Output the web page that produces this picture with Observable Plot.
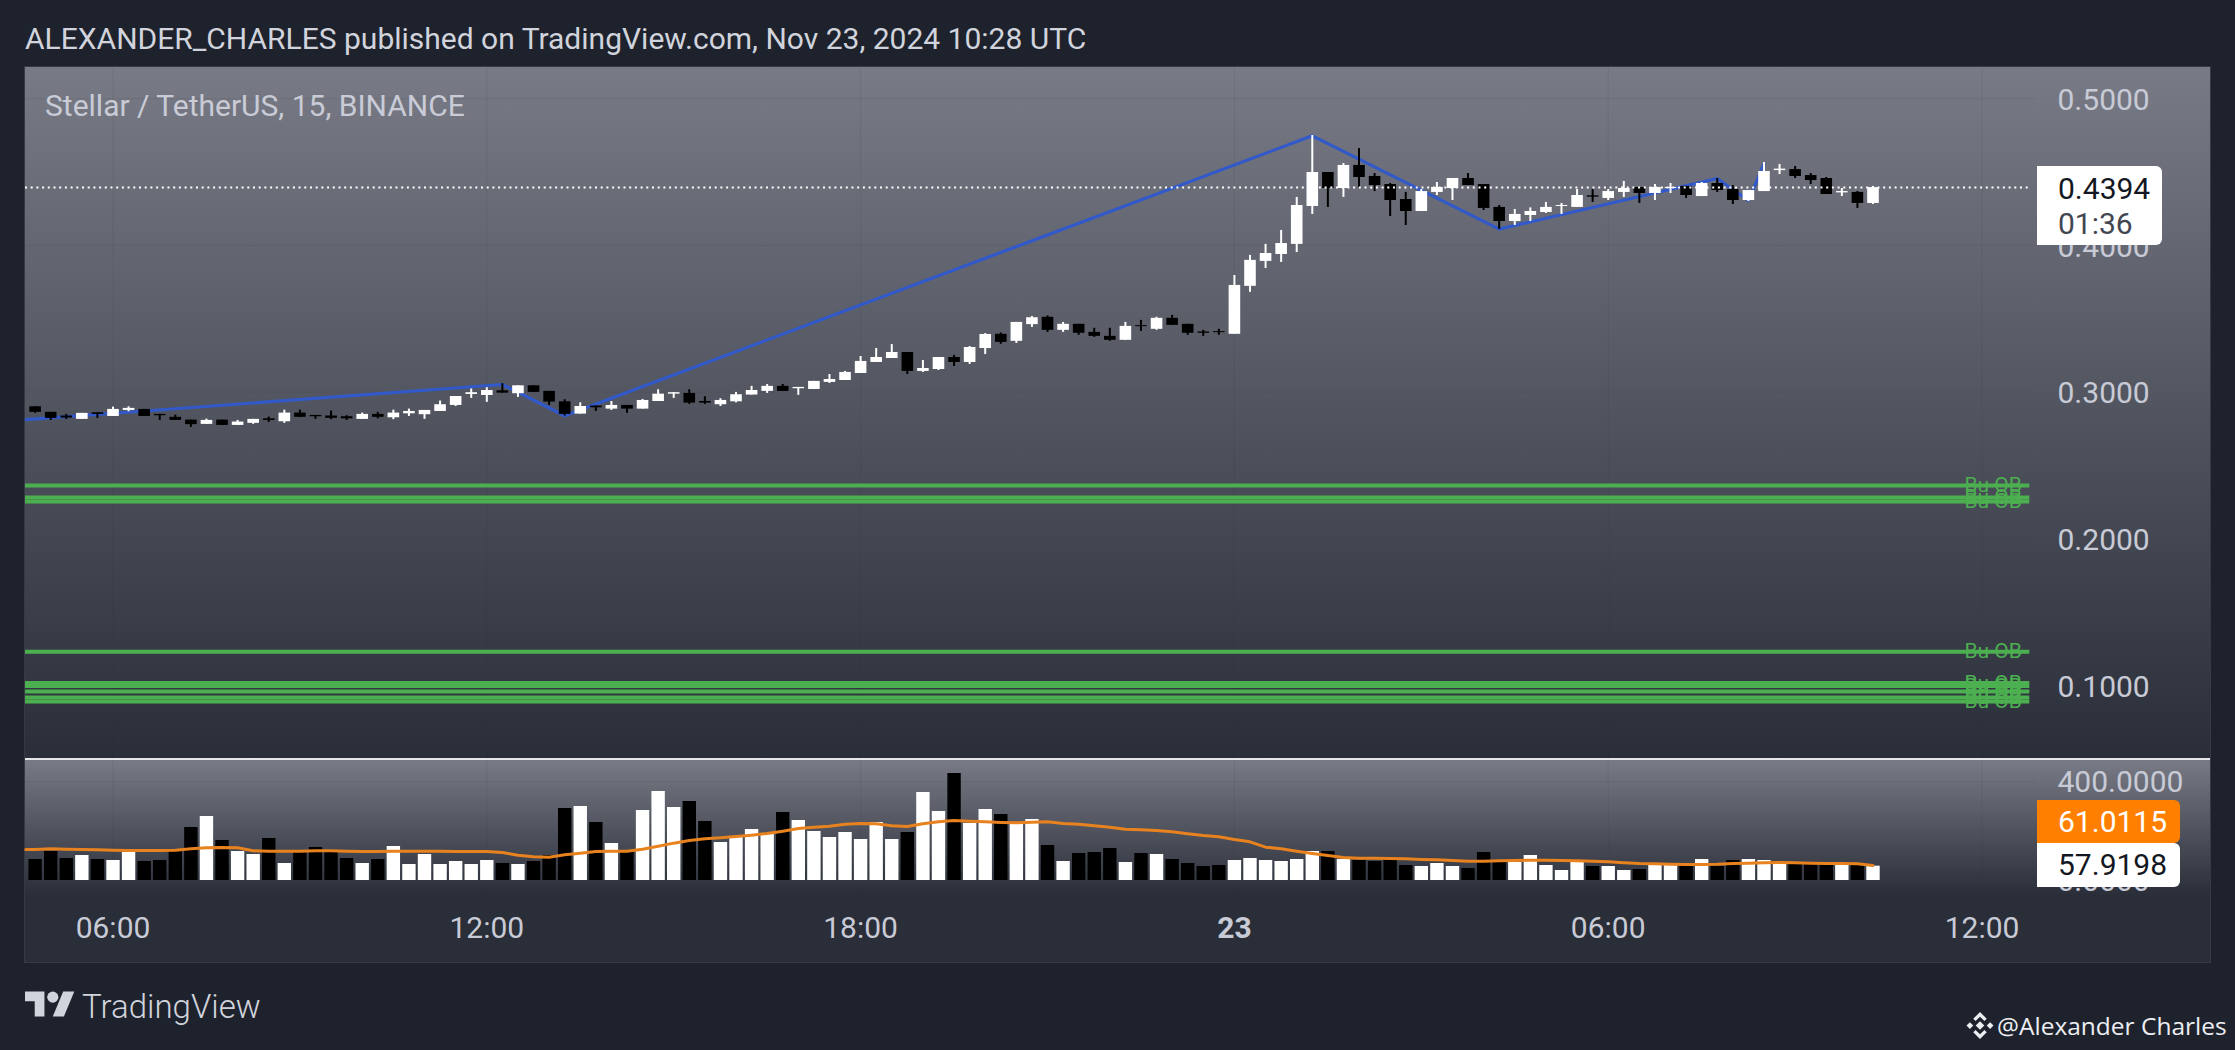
<!DOCTYPE html>
<html>
<head>
<meta charset="utf-8">
<script src="https://cdn.jsdelivr.net/npm/d3@7"></script>
<script src="https://cdn.jsdelivr.net/npm/@observablehq/plot@0.6"></script>
<style>
html,body{margin:0;padding:0;background:#1e222d;width:2235px;height:1050px;overflow:hidden;font-family:Roboto,sans-serif;}
.abs{position:absolute;white-space:nowrap;}
.abs svg{display:block;}
#panel{left:25px;top:67px;width:2185px;height:895px;background:#2a2e39;box-shadow:0 0 0 1px #363a45;}
#paneTop{left:25px;top:67px;width:2185px;height:692px;background:linear-gradient(180deg,#787b86 0%,#2a2e39 100%);}
#sep{left:25px;top:758px;width:2185px;height:2px;background:#e6e7ea;}
#paneVol{left:25px;top:760px;width:2185px;height:135px;background:linear-gradient(180deg,#787b86 0%,#2a2e39 100%);}
.tag{left:2037px;width:125px;background:#fff;border-radius:0 6px 6px 0;}
.tag span{position:absolute;left:21px;font-size:30px;line-height:34px;}
</style>
</head>
<body>
<div class="abs" id="panel"></div>
<div class="abs" id="paneTop"></div>
<div class="abs" id="paneVol"></div>
<div class="abs" id="sep"></div>
<div class="abs" id="chartTop" style="left:25px;top:67px"></div>
<div class="abs" id="chartVol" style="left:25px;top:760px"></div>

<div class="abs" style="left:25px;top:21px;font-size:30px;line-height:36px;color:#d1d4dc" id="headline">ALEXANDER_CHARLES published on TradingView.com, Nov 23, 2024 10:28 UTC</div>
<div class="abs" style="left:45px;top:88px;font-size:30px;line-height:36px;color:#c9cbd6" id="symbol">Stellar / TetherUS, 15, BINANCE</div>

<div class="abs tag" style="top:166px;height:79px">
  <span style="top:6px;color:#131722">0.4394</span>
  <span style="top:41px;color:#434651">01:36</span>
</div>
<div class="abs tag" style="top:800px;height:43px;width:143px;background:#ff7f00;border-radius:0 6px 6px 0">
  <span style="top:5px;color:#fff">61.0115</span>
</div>
<div class="abs tag" style="top:843px;height:44px;width:143px;border-radius:0 6px 6px 0">
  <span style="top:5px;color:#131722">57.9198</span>
</div>

<svg class="abs" style="left:25px;top:986px" width="50" height="39" viewBox="0 0 36 28" fill="#d1d4dc">
  <path d="M14 22H7V11H0V4h14v18zM28 22h-8l7.500-18h8L28 22z"></path><circle cx="20" cy="8" r="4"></circle>
</svg>
<div class="abs" style="left:82px;top:986px;font-size:33px;line-height:42px;font-weight:300;color:#d1d4dc">TradingView</div>

<svg class="abs" style="left:1966px;top:1012px" width="28" height="27" viewBox="0 0 28 28" fill="#eceef2">
  <path d="M14 0l7 7-2.400 2.400L14 4.800 9.400 9.400 7 7zM14 28l-7-7 2.400-2.400 4.600 4.600 4.600-4.600L21 21zM3.500 10.500L7 14l-3.500 3.500L0 14zM24.500 10.500L28 14l-3.500 3.500L21 14zM14 9.500L18.500 14 14 18.500 9.500 14z"></path>
</svg>
<div class="abs" style="left:1997px;top:1009px;font-size:24.5px;line-height:34px;font-family:'Open Sans',sans-serif;color:#eceef2" id="credit">@Alexander Charles</div>

<script>
// Candles, one entry per 15-minute bar, 04:45 UTC on 22 Nov to 10:15 UTC on 23 Nov 2024
const opens = [.2900,.2862,.2837,.2814,.2859,.2834,.2875,.2882,.2848,.2828,.2809,.2780,.2809,.2773,.2787,.2818,.2798,.2857,.2841,.2837,.2832,.2814,.2848,.2825,.2852,.2846,.2868,.2909,.2984,.2977,.3009,.2989,.3043,.3005,.2934,.2850,.2905,.2884,.2909,.2884,.2936,.2986,.2991,.2936,.2914,.2934,.2980,.3005,.3039,.3023,.3018,.3066,.3079,.3127,.3202,.3229,.3270,.3141,.3154,.3236,.3202,.3297,.3394,.3346,.3460,.3510,.3421,.3462,.3407,.3380,.3353,.3453,.3428,.3503,.3462,.3410,.3412,.3394,.3721,.3891,.3938,.4007,.4265,.4497,.4388,.4545,.4470,.4415,.4313,.4231,.4361,.4388,.4456,.4415,.4259,.4163,.4204,.4224,.4265,.4259,.4338,.4320,.4361,.4395,.4354,.4388,.4402,.4333,.4422,.4381,.4306,.4367,.4510,.4517,.4476,.4456,.4358,.4361,.4286];
const highs = [.2900,.2862,.2848,.2855,.2859,.2898,.2900,.2882,.2848,.2843,.2809,.2816,.2809,.2807,.2814,.2830,.2877,.2877,.2841,.2871,.2839,.2857,.2862,.2877,.2884,.2875,.2939,.2970,.3021,.3030,.3057,.3043,.3043,.3005,.2948,.2927,.2905,.2936,.2909,.2950,.3016,.2996,.3016,.2968,.2955,.2998,.3039,.3052,.3052,.3032,.3073,.3120,.3141,.3243,.3297,.3324,.3270,.3215,.3236,.3250,.3311,.3399,.3403,.3475,.3516,.3519,.3475,.3462,.3435,.3435,.3475,.3489,.3510,.3523,.3462,.3421,.3428,.3795,.3932,.4007,.4102,.4327,.4749,.4497,.4558,.4660,.4490,.4422,.4361,.4381,.4429,.4456,.4490,.4415,.4272,.4245,.4256,.4293,.4286,.4381,.4381,.4381,.4436,.4395,.4415,.4422,.4402,.4429,.4456,.4408,.4374,.4565,.4551,.4538,.4490,.4463,.4388,.4367,.4402];
const lows = [.2855,.2807,.2814,.2814,.2821,.2834,.2866,.2834,.2807,.2807,.2759,.2780,.2773,.2773,.2780,.2793,.2787,.2828,.2814,.2812,.2807,.2814,.2818,.2812,.2834,.2814,.2868,.2902,.2957,.2930,.2993,.2964,.2998,.2909,.2837,.2850,.2868,.2875,.2855,.2884,.2936,.2957,.2916,.2916,.2902,.2927,.2980,.2991,.3005,.2978,.3018,.3059,.3079,.3127,.3202,.3229,.3120,.3134,.3147,.3175,.3188,.3256,.3326,.3332,.3441,.3407,.3407,.3387,.3373,.3346,.3353,.3414,.3421,.3455,.3387,.3380,.3387,.3394,.3680,.3843,.3884,.3952,.4211,.4259,.4327,.4392,.4367,.4197,.4136,.4231,.4340,.4306,.4408,.4238,.4109,.4136,.4163,.4218,.4211,.4259,.4293,.4306,.4327,.4286,.4306,.4354,.4320,.4333,.4361,.4279,.4299,.4367,.4483,.4456,.4415,.4347,.4333,.4252,.4279];
const closes = [.2862,.2821,.2823,.2855,.2848,.2882,.2889,.2834,.2839,.2807,.2778,.2807,.2773,.2796,.2814,.2807,.2857,.2828,.2832,.2821,.2818,.2848,.2828,.2857,.2868,.2875,.2914,.2970,.2996,.3011,.2993,.3043,.2998,.2932,.2848,.2902,.2893,.2909,.2884,.2943,.2986,.2996,.2925,.2925,.2943,.2982,.3011,.3039,.3005,.3032,.3073,.3086,.3134,.3209,.3236,.3270,.3141,.3161,.3236,.3202,.3304,.3393,.3339,.3475,.3507,.3421,.3462,.3401,.3380,.3353,.3448,.3446,.3503,.3455,.3401,.3401,.3405,.3727,.3898,.3945,.4013,.4272,.4497,.4388,.4545,.4463,.4408,.4306,.4231,.4367,.4395,.4456,.4408,.4252,.4163,.4211,.4231,.4259,.4272,.4340,.4329,.4367,.4388,.4354,.4395,.4395,.4340,.4422,.4374,.4306,.4374,.4504,.4520,.4470,.4442,.4347,.4367,.4286,.4394];

// Volume bars and the moving average of volume
const volumes = [84.9,117.2,88.9,101,84.9,80.8,113.1,76.8,80.8,117.2,214.2,258.6,161.6,117.2,105.1,169.7,68.7,113.1,133.4,113.1,88.9,68.7,84.9,137.4,64.7,105.1,64.7,76.8,64.7,80.8,68.7,64.7,76.8,101,291,299,234.4,149.5,117.2,282.9,359.6,295,319.2,238.4,153.6,173.8,206.1,185.9,274.8,242.5,198,173.8,194,165.7,234.4,165.7,194,355.6,278.8,432.4,230.3,286.9,266.7,230.3,246.5,141.4,76.8,109.1,113.1,129.3,72.7,109.1,105.1,84.9,68.7,56.6,60.6,80.8,88.9,80.8,76.8,84.9,117.2,117.2,84.9,80.8,76.8,84.9,60.6,56.6,68.7,56.6,48.5,113.1,72.7,72.7,101,60.6,40.4,72.7,56.6,56.6,40.4,44.5,64.7,64.7,60.6,84.9,56.6,80.8,84.9,80.8,68.7,64.7,64.7,60.6,60.6,60.6,57.9];
const volumeMA = [125.3,125.3,128,126.6,125.3,123.9,122.6,121.2,121.2,121.2,122.6,128,132,133.4,132,119.9,118.5,118.5,118.5,119.9,119.9,118.5,117.2,117.2,118.5,118.5,118.5,118.5,117.2,117.2,117.2,113.1,102.4,95.6,94.3,103.7,110.5,117.2,118.5,118.5,126.6,138.7,150.9,161.6,168.4,172.4,177.8,183.2,189.9,199.4,210.1,215.5,219.6,227.6,230.3,229,220.9,218.2,229,237.1,242.5,239.8,237.1,234.4,233,235.7,237.1,230.3,227.6,220.9,215.5,207.4,204.7,202,196.7,188.6,181.8,176.5,165.7,156.3,134.7,128,118.5,109.1,101,92.9,90.2,90.2,88.9,87.6,84.9,83.5,80.8,78.1,78.1,79.5,80.8,82.2,82.2,80.8,79.5,78.1,75.4,71.4,68.7,67.4,66,64.7,64.7,66,68.7,70,71.4,72.7,71.4,70,68.7,68.7,67.4,61];

// Zigzag
const zigzagTimes = ["2024-11-22T04:36Z","2024-11-22T06:30Z","2024-11-22T12:15Z","2024-11-22T13:15Z","2024-11-23T01:15Z","2024-11-23T04:15Z","2024-11-23T07:45Z","2024-11-23T08:15Z","2024-11-23T08:30Z"];
const zigzagPrices = [.2812,.2871,.3052,.2839,.4747,.4111,.4456,.4306,.4556];

// Order-block levels
const orderBlockLevels = [.2363,.2281,.2254,.1230,.1017,.0997,.0959,.0918,.0891];
const orderBlockLabel = "Bu OB";

// Ticks and current values
const priceTicks = [.1,.2,.3,.4,.5];
const volumeTicks = [0,400];
const timeTicks = ["2024-11-22T06:00Z","2024-11-22T12:00Z","2024-11-22T18:00Z","2024-11-23T06:00Z","2024-11-23T12:00Z"];
const dayTicks = ["2024-11-23T00:00Z"];
const lastPrice = .4394;

const D = s => new Date(s);
const firstBar = D("2024-11-22T04:45Z");
const barTimes = opens.map((_, i) => d3.utcMinute.offset(firstBar, 15 * i));
const maTimes = [D(zigzagTimes[0]), ...barTimes];
const barColor = i => closes[i] >= opens[i] ? "#ffffff" : "#000000";
const idx = d3.range(opens.length);

const xDomain = [D("2024-11-22T04:35:44Z"), D("2024-11-23T12:51:30Z")];
const lineEnd = D("2024-11-23T12:46Z");
const labelAt = D("2024-11-23T12:10:42Z");
const textColor = "#c8cbd6";
const gridColor = "#2a2e39";
const gridOpacity = .1;

const shared = {
  width: 2185, marginLeft: 0, marginRight: 175, marginTop: 0,
  style: {background: "transparent", fontFamily: "Roboto, sans-serif", fontSize: "30px", color: textColor, overflow: "visible"}
};

const priceChart = Plot.plot({
  ...shared, height: 692, marginBottom: 0,
  x: {type: "utc", domain: xDomain, axis: null},
  y: {domain: [.04956, .52127], axis: null},
  marks: [
    Plot.ruleX(timeTicks.concat(dayTicks).map(D), {stroke: gridColor, strokeOpacity: gridOpacity, strokeWidth: 1}),
    Plot.ruleY(priceTicks, {stroke: gridColor, strokeOpacity: gridOpacity, strokeWidth: 1}),
    Plot.axisY({ticks: priceTicks, tickFormat: d3.format(".4f"), anchor: "right", tickSize: 0, tickPadding: 22, label: null, textAnchor: "start", dy: 1.5}),
    Plot.text(orderBlockLevels, {x: () => labelAt, y: d => d, text: () => orderBlockLabel, fill: "#4caf50", fontSize: 21}),
    Plot.ruleY(orderBlockLevels, {x1: xDomain[0], x2: lineEnd, stroke: "#4caf50", strokeWidth: 4}),
    Plot.line(zigzagTimes.map((t, i) => [D(t), zigzagPrices[i]]), {x: d => d[0], y: d => d[1], stroke: "#3259c9", strokeWidth: 3.2, clip: true}),
    Plot.ruleX(idx, {x: i => barTimes[i], y1: i => lows[i], y2: i => highs[i], stroke: barColor, strokeWidth: 2}),
    Plot.ruleX(idx, {x: i => barTimes[i], y1: i => opens[i], y2: i => closes[i], stroke: barColor, strokeWidth: 11.6}),
    Plot.ruleY([lastPrice], {x1: xDomain[0], x2: lineEnd, stroke: "#ffffff", strokeWidth: 2, strokeDasharray: "2,3.7"})
  ]
});
document.getElementById("chartTop").append(priceChart);

const volumeChart = Plot.plot({
  ...shared, height: 202, marginBottom: 82,
  x: {type: "utc", domain: xDomain, axis: null},
  y: {domain: [0, 484.8], axis: null},
  marks: [
    Plot.ruleX(timeTicks.concat(dayTicks).map(D), {y1: -60, y2: 484.8, stroke: gridColor, strokeOpacity: gridOpacity, strokeWidth: 1}),
    Plot.ruleY([400], {stroke: gridColor, strokeOpacity: gridOpacity, strokeWidth: 1}),
    Plot.axisY({ticks: volumeTicks, tickFormat: d3.format(".4f"), anchor: "right", tickSize: 0, tickPadding: 22, label: null, textAnchor: "start", dy: 1}),
    Plot.ruleX(idx, {x: i => barTimes[i], y1: 0, y2: i => volumes[i], stroke: barColor, strokeWidth: 13.4}),
    Plot.line(volumeMA, {x: (d, i) => maTimes[i], y: d => d, stroke: "#e8821e", strokeWidth: 3}),
    Plot.axisX({ticks: timeTicks.map(D), tickFormat: d3.utcFormat("%H:%M"), anchor: "bottom", tickSize: 0, tickPadding: 36, label: null}),
    Plot.axisX({ticks: dayTicks.map(D), tickFormat: d3.utcFormat("%d"), anchor: "bottom", tickSize: 0, tickPadding: 36, label: null, fontWeight: 700})
  ]
});
document.getElementById("chartVol").append(volumeChart);
</script>
</body>
</html>
